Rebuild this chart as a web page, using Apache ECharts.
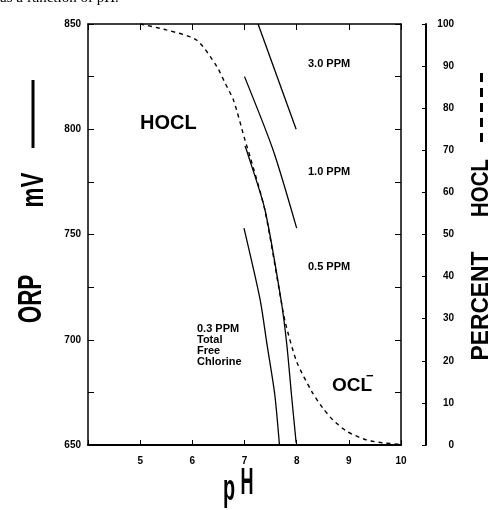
<!DOCTYPE html>
<html>
<head>
<meta charset="utf-8">
<script src="https://cdn.jsdelivr.net/npm/echarts/dist/echarts.min.js"></script>
<style>
html,body{margin:0;padding:0;background:#fff;}
#box{width:500px;height:510px;}
</style>
</head>
<body>
<div id="box"></div>
<script>
// ORP (mV) against pH for each chlorine level
const ppm30 = [[7.26, 850], [7.99, 800]];
const ppm10 = [[7.0, 825], [7.55, 790], [8.0, 753]];
const ppm05 = [[7.01, 792], [7.04, 790], [7.39, 762], [7.70, 719], [7.81, 698], [7.90, 674], [7.99, 651]];
const ppm03 = [[6.99, 753], [7.30, 719], [7.43, 698], [7.58, 674], [7.67, 650]];
// percent HOCL (dashed, right axis)
const hoclPct = [[5.0, 100], [5.5, 98.6], [6.08, 96.2], [6.47, 89.9], [6.63, 85.9], [6.79, 81.9],
  [7.01, 72.4], [7.11, 68.4], [7.39, 55.8], [7.70, 34.4], [7.78, 29.2], [8.0, 19.8], [8.29, 12.7],
  [8.5, 8.8], [8.7, 5.9], [8.98, 3.1], [9.34, 1.2], [9.65, 0.5], [9.98, 0.2]];

const phLabels = [5, 6, 7, 8, 9, 10];
const mvLabels = [650, 700, 750, 800, 850];

const font = 'Liberation Sans, Arial, sans-serif';
const chart = echarts.init(document.getElementById('box'));

const solid = (name, data) => ({
  name: name, type: 'line', data: data, smooth: 0.25, showSymbol: false,
  lineStyle: {color: '#000', width: 1.3}
});

function txt(x, y, text, size, extra) {
  return Object.assign({
    type: 'text', x: x, y: y,
    style: {text: text, fill: '#000', fontFamily: font, fontWeight: 'bold', fontSize: size,
      align: 'left', verticalAlign: 'middle'}
  }, extra || {});
}
function vtxt(x, y, text, size, sx) {
  return {
    type: 'text', x: x, y: y, rotation: Math.PI / 2, scaleX: sx,
    style: {text: text, fill: '#000', fontFamily: font, fontWeight: 'bold', fontSize: size,
      align: 'center', verticalAlign: 'middle'}
  };
}

chart.setOption({
  animation: false,
  grid: {left: 88, right: 99, top: 24, bottom: 65},
  xAxis: [{
    type: 'value', min: 4, max: 10, interval: 1,
    axisLine: {lineStyle: {color: '#000', width: 2}},
    axisTick: {inside: true, length: 5, lineStyle: {color: '#000'}},
    axisLabel: {
      color: '#000', fontFamily: font, fontWeight: 'bold', fontSize: 10, margin: 11,
      formatter: v => phLabels.includes(v) ? String(v) : ''
    },
    splitLine: {show: false}
  }, {
    type: 'value', position: 'top', min: 4, max: 10, interval: 1,
    axisLine: {lineStyle: {color: '#000', width: 1.5}},
    axisTick: {inside: true, length: 6, lineStyle: {color: '#000'}},
    axisLabel: {show: false},
    splitLine: {show: false}
  }],
  yAxis: [{
    type: 'value', min: 650, max: 850, interval: 25,
    axisLine: {show: true, lineStyle: {color: '#000', width: 1.5}},
    axisTick: {inside: true, length: 6, lineStyle: {color: '#000'}},
    axisLabel: {
      color: '#000', fontFamily: font, fontWeight: 'bold', fontSize: 10, margin: 7,
      formatter: v => mvLabels.includes(v) ? String(v) : ''
    },
    splitLine: {show: false}
  }, {
    type: 'value', position: 'right', min: 650, max: 850, interval: 25,
    axisLine: {show: true, lineStyle: {color: '#000', width: 1.5}},
    axisTick: {inside: true, length: 6, lineStyle: {color: '#000'}},
    axisLabel: {show: false},
    splitLine: {show: false}
  }, {
    type: 'value', position: 'right', offset: 25, min: 0, max: 100, interval: 10,
    axisLine: {show: true, lineStyle: {color: '#000', width: 2}},
    axisTick: {inside: true, length: 4, lineStyle: {color: '#000'}},
    axisLabel: {
      color: '#000', fontFamily: font, fontWeight: 'bold', fontSize: 10, margin: 28, align: 'right'
    },
    splitLine: {show: false}
  }],
  series: [
    solid('3.0 PPM', ppm30),
    solid('1.0 PPM', ppm10),
    solid('0.5 PPM', ppm05),
    solid('0.3 PPM', ppm03),
    {
      name: 'HOCL', type: 'line', yAxisIndex: 2, data: hoclPct, smooth: 0.25,
      showSymbol: false, lineStyle: {color: '#000', width: 1.4, type: [4, 4]}
    }
  ],
  graphic: [
    {type: 'text', x: 0, y: -2,
      style: {text: 'as a function of pH.', fill: '#000', fontFamily: 'Liberation Serif, serif',
        fontSize: 15, align: 'left', verticalAlign: 'middle'}},
    txt(140, 123, 'HOCL', 20),
    txt(308, 64, '3.0 PPM', 11),
    txt(308, 172, '1.0 PPM', 11),
    txt(308, 267, '0.5 PPM', 11),
    txt(197, 329, '0.3 PPM', 11),
    txt(197, 340, 'Total', 11),
    txt(197, 351, 'Free', 11),
    txt(197, 362, 'Chlorine', 11),
    txt(332, 386, 'OCL', 19),
    txt(366, 376, '\u2212', 13),
    // left axis title
    vtxt(32, 299, 'ORP', 34, 0.66),
    vtxt(34, 190, 'mV', 32, 0.7),
    {type: 'line', shape: {x1: 33, y1: 80, x2: 33, y2: 148}, style: {stroke: '#000', lineWidth: 3}},
    // right axis title
    vtxt(481, 306, 'PERCENT', 24, 0.95),
    vtxt(481, 188, 'HOCL', 24, 0.85),
    {type: 'line', shape: {x1: 481.5, y1: 73, x2: 481.5, y2: 143},
      style: {stroke: '#000', lineWidth: 3, lineDash: [9, 6]}},
    // bottom axis title
    txt(229, 490, 'p', 36, {scaleX: 0.55, style: {text: 'p', fill: '#000', fontFamily: font,
      fontWeight: 'bold', fontSize: 36, align: 'center', verticalAlign: 'middle'}}),
    txt(247, 484, 'H', 36, {scaleX: 0.5, style: {text: 'H', fill: '#000', fontFamily: font,
      fontWeight: 'bold', fontSize: 36, align: 'center', verticalAlign: 'middle'}})
  ]
});
</script>
</body>
</html>
